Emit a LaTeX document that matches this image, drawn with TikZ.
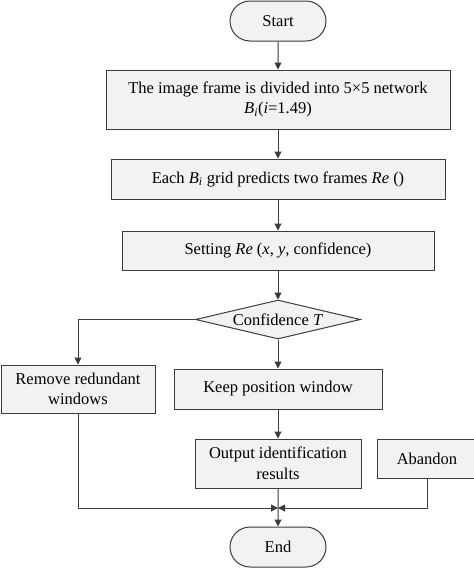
\documentclass[tikz,border=0pt]{standalone}
\usepackage{fontspec}
\setmainfont{Liberation Serif}
\usetikzlibrary{shapes.geometric,shapes.misc,arrows.meta}
\definecolor{boxfill}{HTML}{F2F2F2}
\definecolor{boxline}{HTML}{3C3C3C}
\tikzset{
  stepbox/.style={draw=boxline,fill=boxfill,line width=1pt,align=center,inner sep=2pt,font=\fontsize{16.5}{20.5}\selectfont},
  termbox/.style={stepbox,rounded rectangle,minimum width=100pt,minimum height=40pt},
  testbox/.style={stepbox,diamond,aspect=4.2,inner sep=0pt},
  arr/.style={draw=boxline,line width=1pt,-{Triangle[length=7pt,width=7pt]}},
}
\begin{document}
\begin{tikzpicture}[x=1pt,y=-1pt]
\useasboundingbox (0,0) rectangle (474,568);
\node[termbox] (start) at (278,21) {Start};
\node[stepbox,minimum width=344pt,minimum height=59pt] (divide) at (278,99.5)
  {The image frame is divided into 5×5 network\\\textit{B}\textsubscript{\textit{i}}(\textit{i}=1.49)};
\node[stepbox,minimum width=334pt,minimum height=40pt] (predict) at (278,179)
  {Each \textit{B}\textsubscript{\textit{i}} grid predicts two frames \textit{Re} ()};
\node[stepbox,minimum width=312pt,minimum height=39pt] (setting) at (278,250.5)
  {Setting \textit{Re} (\textit{x}, \textit{y}, confidence)};
\node[testbox,minimum width=165pt,minimum height=39pt] (conf) at (278,319.5) {Confidence \textit{T}};
\node[stepbox,minimum width=154pt,minimum height=48pt] (remove) at (78,389) {Remove redundant\\windows};
\node[stepbox,minimum width=208pt,minimum height=40pt] (keep) at (278,389) {Keep position window};
\node[stepbox,minimum width=166pt,minimum height=49pt] (output) at (278,463.5) {Output identification\\results};
\node[stepbox,minimum width=100pt,minimum height=39pt] (abandon) at (427,458.5) {Abandon};
\node[termbox] (end) at (278,547) {End};
\coordinate (merge) at (278,508);
% main line
\draw[arr] (start) -- (divide);
\draw[arr] (divide) -- (predict);
\draw[arr] (predict) -- (setting);
\draw[arr] (setting) -- (conf);
\draw[arr] (conf) -- (keep);
\draw[arr] (conf.west) -| (remove.north);
\draw[arr] (keep) -- (output);
\draw[arr] (output) -- (end);
% side branches into the merge
\draw[arr] (remove.south) |- (merge);
\draw[arr] (abandon.south) |- (merge);
\end{tikzpicture}
\end{document}
